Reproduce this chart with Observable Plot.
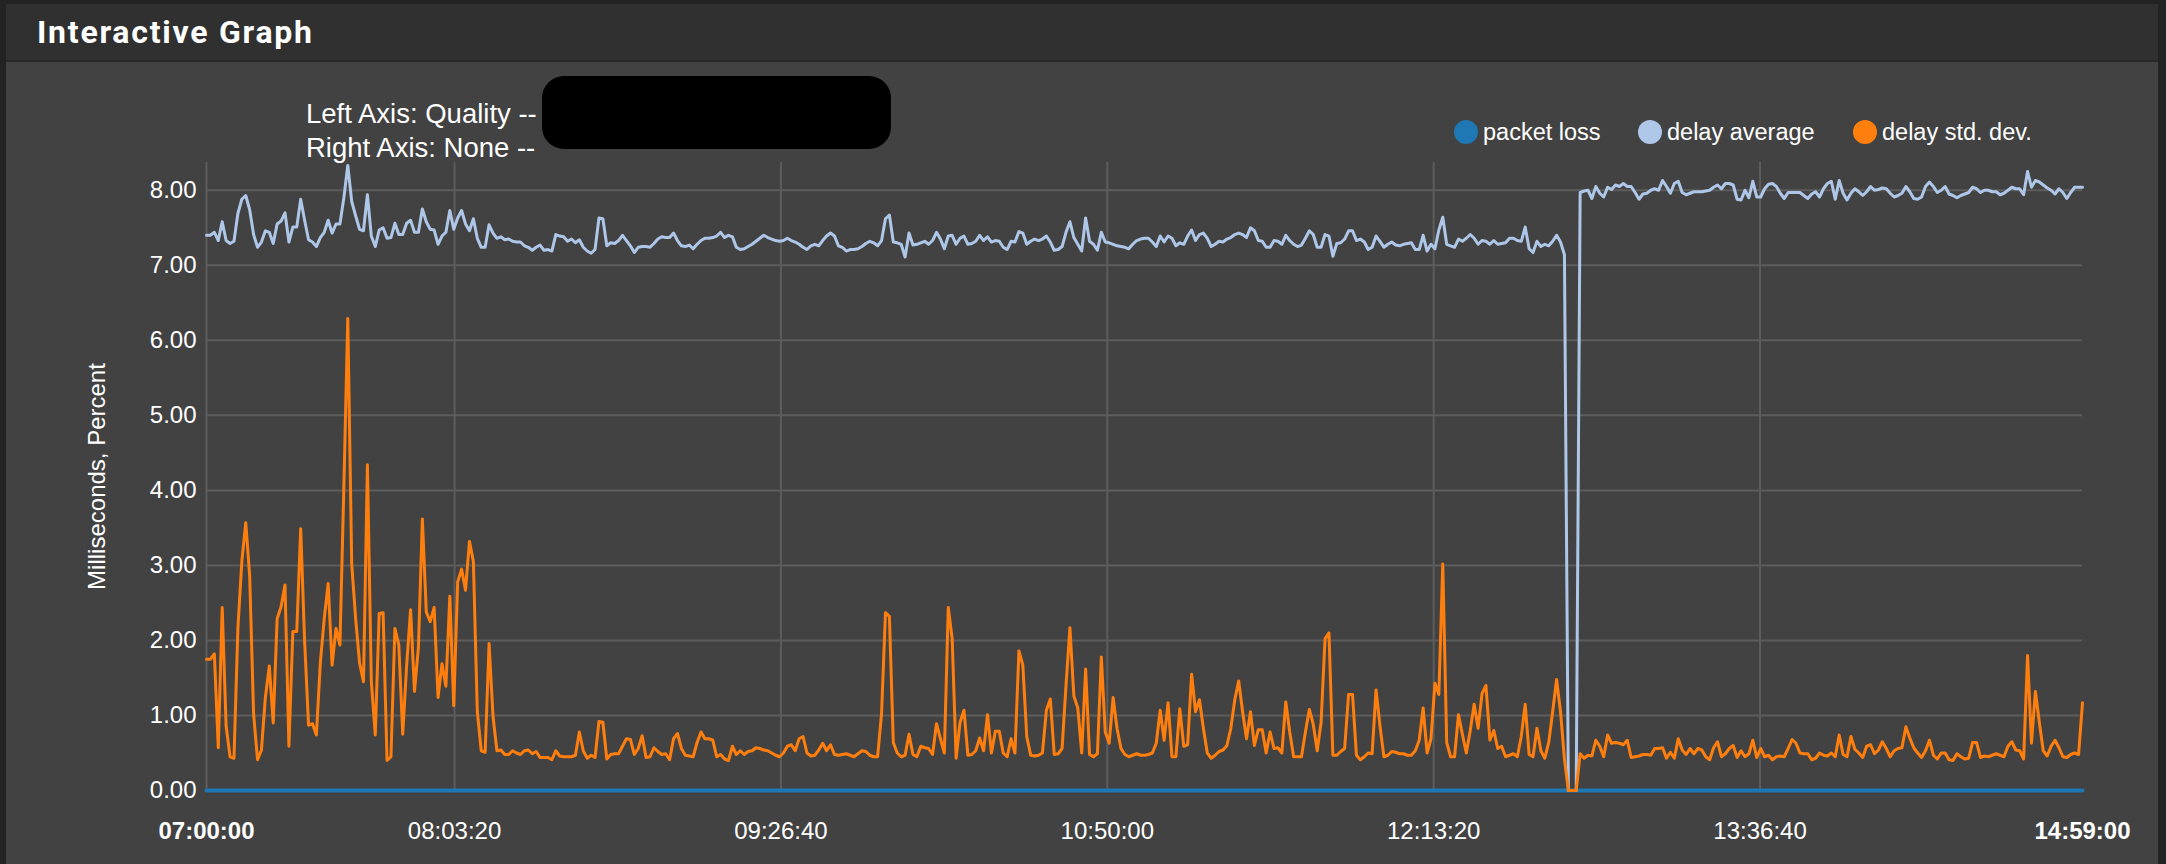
<!DOCTYPE html>
<html>
<head>
<meta charset="utf-8">
<script src="https://cdn.jsdelivr.net/npm/d3@7"></script>
<script src="https://cdn.jsdelivr.net/npm/@observablehq/plot@0.6"></script>
<style>
  html, body { margin: 0; padding: 0; background: #232323; }
  #page { position: relative; width: 2166px; height: 864px; overflow: hidden; background: #232323; }
  #decor { position: absolute; left: 0; top: 0; }
  #chart { position: absolute; left: 0; top: 62px; }
</style>
</head>
<body>
<div id="page">
  <svg id="decor" width="2166" height="864" xmlns="http://www.w3.org/2000/svg">
    <rect x="6" y="4" width="2152" height="860" fill="#424242"></rect>
    <rect x="6" y="4" width="2152" height="56" fill="#303030"></rect>
    <rect x="6" y="60" width="2152" height="2" fill="#282828"></rect>
    <text x="37" y="43" fill="#ffffff" font-family="Roboto, 'Open Sans', sans-serif" font-weight="700" font-size="32" letter-spacing="1.75">Interactive Graph</text>
    <text x="306" y="123" fill="#ffffff" font-family="'Liberation Sans', Arial, sans-serif" font-size="27.5">Left Axis: Quality --</text>
    <text x="306" y="157" fill="#ffffff" font-family="'Liberation Sans', Arial, sans-serif" font-size="27.5">Right Axis: None --</text>
    <rect x="542" y="76" width="349" height="73" rx="22" ry="22" fill="#000000"></rect>
    <g id="legend" font-family="'Liberation Sans', Arial, sans-serif" font-size="23.5" fill="#ffffff"></g>
  </svg>
  <div id="chart"></div>
</div>
<script>
// ---- Data ----
const seriesNames = ["packet loss", "delay average", "delay std. dev."];
const seriesColors = ["#1f77b4", "#aec7e8", "#ff7f0e"];
const xTickLabels = ["07:00:00", "08:03:20", "09:26:40", "10:50:00", "12:13:20", "13:36:40", "14:59:00"];
const yTickValues = [0, 1, 2, 3, 4, 5, 6, 7, 8];
const startLabel = "07:00:00";
const endLabel = "14:59:00";

// delay average (ms), one sample per step across the window
const delayAvg = [
7.40,7.40,7.44,7.33,7.58,7.33,7.29,7.32,7.69,7.88,
7.93,7.74,7.41,7.24,7.31,7.46,7.44,7.29,7.55,7.59,
7.70,7.31,7.51,7.51,7.88,7.60,7.34,7.31,7.25,7.37,
7.44,7.60,7.43,7.55,7.55,7.90,8.33,7.85,7.66,7.48,
7.46,7.94,7.39,7.25,7.47,7.50,7.36,7.37,7.56,7.41,
7.41,7.56,7.60,7.44,7.44,7.75,7.58,7.48,7.47,7.28,
7.39,7.44,7.73,7.48,7.63,7.73,7.55,7.46,7.62,7.36,
7.24,7.24,7.54,7.43,7.36,7.38,7.34,7.35,7.32,7.31,
7.31,7.26,7.24,7.20,7.24,7.27,7.20,7.21,7.19,7.41,
7.39,7.38,7.32,7.35,7.30,7.34,7.24,7.19,7.16,7.21,
7.63,7.62,7.26,7.30,7.29,7.33,7.40,7.33,7.26,7.17,
7.24,7.25,7.25,7.24,7.29,7.35,7.38,7.37,7.37,7.43,
7.33,7.26,7.25,7.27,7.22,7.28,7.33,7.36,7.36,7.37,
7.39,7.44,7.37,7.40,7.38,7.24,7.21,7.22,7.25,7.28,
7.32,7.36,7.40,7.37,7.35,7.33,7.32,7.33,7.36,7.33,
7.31,7.28,7.24,7.21,7.26,7.28,7.26,7.33,7.39,7.43,
7.39,7.26,7.24,7.19,7.21,7.21,7.22,7.25,7.29,7.32,
7.30,7.26,7.33,7.62,7.67,7.31,7.30,7.28,7.11,7.43,
7.27,7.28,7.30,7.32,7.28,7.33,7.44,7.35,7.22,7.39,
7.40,7.28,7.36,7.39,7.28,7.29,7.32,7.40,7.33,7.38,
7.31,7.33,7.32,7.24,7.21,7.32,7.31,7.45,7.43,7.28,
7.32,7.35,7.33,7.35,7.39,7.31,7.20,7.21,7.25,7.44,
7.58,7.37,7.28,7.19,7.63,7.32,7.28,7.20,7.44,7.31,
7.30,7.28,7.26,7.25,7.24,7.22,7.28,7.33,7.35,7.36,
7.36,7.31,7.25,7.39,7.31,7.39,7.36,7.26,7.30,7.28,
7.39,7.47,7.33,7.41,7.43,7.36,7.25,7.28,7.32,7.31,
7.35,7.37,7.41,7.43,7.41,7.37,7.50,7.46,7.33,7.32,
7.24,7.24,7.33,7.32,7.28,7.40,7.33,7.28,7.25,7.27,
7.36,7.46,7.41,7.24,7.24,7.41,7.39,7.12,7.29,7.30,
7.35,7.46,7.46,7.33,7.35,7.31,7.21,7.24,7.39,7.32,
7.24,7.28,7.31,7.27,7.26,7.28,7.29,7.30,7.21,7.21,
7.40,7.19,7.28,7.22,7.47,7.64,7.28,7.26,7.24,7.35,
7.32,7.36,7.41,7.36,7.28,7.33,7.32,7.28,7.33,7.28,
7.29,7.30,7.36,7.36,7.33,7.32,7.51,7.22,7.17,7.32,
7.25,7.28,7.26,7.32,7.40,7.31,7.14,0,0,0,
7.97,7.99,8.00,7.89,8.05,7.96,7.91,8.04,8.01,8.07,
8.05,8.09,8.05,8.05,7.97,7.88,7.95,7.96,8.00,8.02,
8.00,8.13,8.05,7.96,8.09,8.12,7.97,7.94,7.96,7.98,
7.98,7.98,7.99,8.00,8.04,8.07,8.02,8.09,8.09,8.07,
7.88,7.87,8.00,7.90,8.12,7.91,7.91,8.02,8.08,8.09,
8.05,7.96,7.89,7.97,7.97,7.97,7.97,7.93,7.89,7.95,
7.98,7.91,8.02,8.09,8.12,7.88,8.13,7.96,7.87,7.96,
8.02,7.98,7.93,7.98,8.05,8.00,8.01,8.03,8.02,7.96,
7.91,7.93,7.96,8.05,7.98,7.89,7.88,7.91,8.05,8.11,
8.05,7.97,8.00,8.05,7.95,7.93,7.90,7.93,7.95,7.97,
8.04,8.02,7.97,8.00,8.00,7.98,7.98,7.94,7.96,8.00,
8.04,8.02,8.02,7.94,8.25,8.04,8.13,8.11,8.07,8.03,
8.00,7.95,8.02,7.97,7.89,7.97,8.04,8.04,8.04
];

// delay standard deviation (ms)
const delayStd = [
1.75,1.75,1.82,0.57,2.44,0.86,0.45,0.43,2.16,3.05,
3.57,2.86,1.02,0.41,0.54,1.24,1.66,0.90,2.29,2.45,
2.74,0.59,2.12,2.12,3.49,1.99,0.87,0.89,0.74,1.70,
2.29,2.76,1.67,2.16,1.94,4.05,6.29,3.02,2.29,1.70,
1.45,4.34,1.45,0.74,2.36,2.37,0.40,0.45,2.16,1.94,
0.75,1.67,2.41,1.32,1.91,3.62,2.38,2.25,2.44,1.24,
1.69,1.39,2.59,1.13,2.78,2.95,2.67,3.32,3.05,1.05,
0.53,0.51,1.96,0.99,0.53,0.54,0.48,0.48,0.53,0.50,
0.48,0.53,0.54,0.49,0.52,0.44,0.44,0.44,0.41,0.53,
0.46,0.45,0.45,0.45,0.47,0.78,0.53,0.43,0.47,0.44,
0.92,0.91,0.42,0.48,0.49,0.49,0.59,0.69,0.68,0.48,
0.56,0.73,0.44,0.45,0.57,0.52,0.48,0.49,0.41,0.69,
0.76,0.56,0.47,0.46,0.45,0.64,0.78,0.69,0.69,0.67,
0.45,0.48,0.42,0.40,0.59,0.48,0.53,0.48,0.52,0.53,
0.57,0.56,0.54,0.53,0.50,0.47,0.45,0.50,0.59,0.61,
0.53,0.69,0.72,0.50,0.46,0.47,0.54,0.63,0.53,0.61,
0.48,0.47,0.48,0.49,0.47,0.45,0.49,0.53,0.52,0.47,
0.45,0.45,1.02,2.37,2.32,0.64,0.50,0.45,0.47,0.75,
0.48,0.45,0.59,0.57,0.56,0.48,0.89,0.69,0.50,2.44,
2.02,0.43,0.91,1.07,0.47,0.48,0.53,0.70,0.53,1.01,
0.50,0.79,0.79,0.50,0.45,0.69,0.50,1.86,1.67,0.72,
0.47,0.46,0.47,0.50,1.07,1.22,0.48,0.49,0.56,1.40,
2.17,1.26,1.10,0.50,1.62,0.48,0.45,0.49,1.78,0.78,
0.63,1.24,0.83,0.56,0.48,0.45,0.47,0.49,0.47,0.47,
0.48,0.50,0.63,1.07,0.67,1.17,0.45,0.45,1.09,0.59,
0.61,1.55,1.05,1.21,0.83,0.50,0.43,0.47,0.52,0.54,
0.60,0.83,1.21,1.46,1.05,0.69,1.05,0.60,0.81,0.81,
0.50,0.78,0.56,0.57,0.50,1.18,0.78,0.45,0.45,0.45,
0.78,1.08,0.88,0.53,0.91,2.02,2.10,0.47,0.47,0.52,
0.56,1.28,1.28,0.47,0.41,0.45,0.50,0.49,1.34,0.86,
0.45,0.47,0.52,0.51,0.49,0.49,0.47,0.47,0.53,0.67,
1.10,0.50,0.69,1.43,1.28,3.02,0.64,0.45,0.45,1.01,
0.75,0.50,0.80,1.15,0.83,1.29,1.40,0.67,0.80,0.56,
0.59,0.45,0.47,0.49,0.45,0.72,1.15,0.48,0.45,0.83,
0.53,0.43,0.64,1.05,1.48,1.05,0.42,0,0,0,
0.49,0.43,0.47,0.46,0.67,0.59,0.45,0.74,0.63,0.64,
0.63,0.61,0.67,0.44,0.45,0.46,0.48,0.48,0.47,0.56,
0.56,0.57,0.43,0.51,0.43,0.69,0.54,0.48,0.56,0.49,
0.56,0.54,0.45,0.41,0.57,0.65,0.45,0.49,0.56,0.60,
0.44,0.53,0.45,0.49,0.67,0.44,0.56,0.45,0.47,0.41,
0.45,0.46,0.45,0.56,0.68,0.63,0.50,0.49,0.49,0.41,
0.43,0.50,0.47,0.46,0.50,0.45,0.74,0.48,0.45,0.72,
0.55,0.50,0.44,0.59,0.61,0.49,0.54,0.65,0.56,0.45,
0.53,0.56,0.57,0.85,0.70,0.57,0.50,0.44,0.53,0.67,
0.47,0.42,0.50,0.50,0.41,0.40,0.49,0.45,0.42,0.43,
0.64,0.64,0.44,0.46,0.45,0.47,0.49,0.47,0.45,0.59,
0.65,0.54,0.53,0.42,1.80,0.63,1.32,0.91,0.53,0.46,
0.59,0.67,0.57,0.45,0.44,0.48,0.50,0.48,1.17
];

// packet loss (%): zero throughout the window
const packetLoss = [
0,0,0,0,0,0,0,0,0,0,0,0,0,0,0,0,0,0,0,0,
0,0,0,0,0,0,0,0,0,0,0,0,0,0,0,0,0,0,0,0,
0,0,0,0,0,0,0,0,0,0,0,0,0,0,0,0,0,0,0,0,
0,0,0,0,0,0,0,0,0,0,0,0,0,0,0,0,0,0,0,0,
0,0,0,0,0,0,0,0,0,0,0,0,0,0,0,0,0,0,0,0,
0,0,0,0,0,0,0,0,0,0,0,0,0,0,0,0,0,0,0,0,
0,0,0,0,0,0,0,0,0,0,0,0,0,0,0,0,0,0,0,0,
0,0,0,0,0,0,0,0,0,0,0,0,0,0,0,0,0,0,0,0,
0,0,0,0,0,0,0,0,0,0,0,0,0,0,0,0,0,0,0,0,
0,0,0,0,0,0,0,0,0,0,0,0,0,0,0,0,0,0,0,0,
0,0,0,0,0,0,0,0,0,0,0,0,0,0,0,0,0,0,0,0,
0,0,0,0,0,0,0,0,0,0,0,0,0,0,0,0,0,0,0,0,
0,0,0,0,0,0,0,0,0,0,0,0,0,0,0,0,0,0,0,0,
0,0,0,0,0,0,0,0,0,0,0,0,0,0,0,0,0,0,0,0,
0,0,0,0,0,0,0,0,0,0,0,0,0,0,0,0,0,0,0,0,
0,0,0,0,0,0,0,0,0,0,0,0,0,0,0,0,0,0,0,0,
0,0,0,0,0,0,0,0,0,0,0,0,0,0,0,0,0,0,0,0,
0,0,0,0,0,0,0,0,0,0,0,0,0,0,0,0,0,0,0,0,
0,0,0,0,0,0,0,0,0,0,0,0,0,0,0,0,0,0,0,0,
0,0,0,0,0,0,0,0,0,0,0,0,0,0,0,0,0,0,0,0,
0,0,0,0,0,0,0,0,0,0,0,0,0,0,0,0,0,0,0,0,
0,0,0,0,0,0,0,0,0,0,0,0,0,0,0,0,0,0,0,0,
0,0,0,0,0,0,0,0,0,0,0,0,0,0,0,0,0,0,0,0,
0,0,0,0,0,0,0,0,0,0,0,0,0,0,0,0,0,0,0
];

// ---- Build chart ----
function parseClock(s) {
  const [h, m, sec] = s.split(":").map(Number);
  return new Date(Date.UTC(2000, 0, 1, h, m, sec));
}
const t0 = parseClock(startLabel);
const t1 = parseClock(endLabel);
const n = delayAvg.length;
const step = (t1 - t0) / (n - 1);
const timeAt = (i) => new Date(+t0 + i * step);

if (delayStd.length !== n || packetLoss.length !== n) {
  console.warn("length mismatch", n, delayStd.length, packetLoss.length);
}

const tickDates = xTickLabels.map(parseClock);
const endTicks = [tickDates[0], tickDates[tickDates.length - 1]];
const midTicks = tickDates.slice(1, -1);
const gridDates = tickDates.slice(0, -1);
const fmt = d3.utcFormat("%H:%M:%S");
const gridColor = "#5d5d5d";
const FONT = "'Liberation Sans', Arial, Helvetica, sans-serif";
const FS = 24;

const chart = Plot.plot({
  width: 2166,
  height: 802,
  marginLeft: 206,
  marginRight: 84,
  marginTop: 100,
  marginBottom: 74,
  style: { background: "transparent", color: "#ffffff", fontFamily: FONT, fontSize: FS + "px" },
  x: { type: "utc", domain: [t0, t1] },
  y: { domain: [0, 8.37] },
  marks: [
    Plot.gridY(yTickValues, { stroke: gridColor, strokeOpacity: 1, strokeWidth: 2 }),
    Plot.gridX(gridDates, { stroke: gridColor, strokeOpacity: 1, strokeWidth: 2 }),
    Plot.axisY(yTickValues, { tickSize: 0, tickPadding: 10, tickFormat: (d) => d.toFixed(2), fontSize: FS, fill: "#ffffff", label: null }),
    Plot.axisX(midTicks, { tickSize: 0, tickPadding: 31, tickFormat: fmt, fontSize: FS, fill: "#ffffff", label: null }),
    Plot.axisX(endTicks, { tickSize: 0, tickPadding: 31, tickFormat: fmt, fontSize: FS, fontWeight: "bold", fill: "#ffffff", label: null }),
    Plot.text(["Milliseconds, Percent"], { frameAnchor: "left", textAnchor: "middle", rotate: -90, dx: -109, fontSize: FS, fill: "#ffffff" }),
    Plot.line(packetLoss, { x: (d, i) => timeAt(i), y: (d) => d, stroke: seriesColors[0], strokeWidth: 4 }),
    Plot.line(delayAvg, { x: (d, i) => timeAt(i), y: (d) => d, stroke: seriesColors[1], strokeWidth: 3 }),
    Plot.line(delayStd, { x: (d, i) => timeAt(i), y: (d) => d, stroke: seriesColors[2], strokeWidth: 3 })
  ]
});
document.getElementById("chart").appendChild(chart);

// ---- Legend ----
const legendX = [1466, 1650, 1865];
const legend = d3.select("#legend");
seriesNames.forEach((name, k) => {
  legend.append("circle").attr("cx", legendX[k]).attr("cy", 132).attr("r", 12).attr("fill", seriesColors[k]);
  legend.append("text").attr("x", legendX[k] + 17).attr("y", 140).text(name);
});
</script>
</body>
</html>
